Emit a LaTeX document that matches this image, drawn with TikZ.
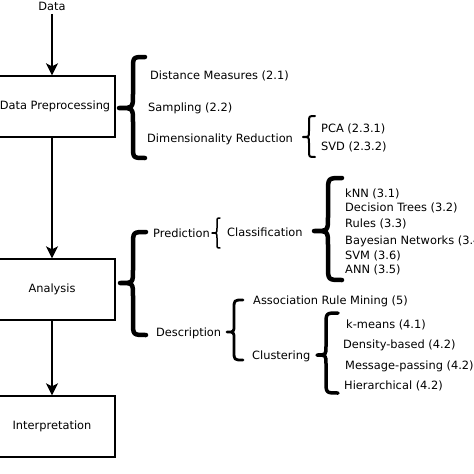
\documentclass[tikz,border=0pt]{standalone}
\usepackage{fontspec}
\setmainfont{DejaVu Sans}
\usetikzlibrary{arrows.meta}

\tikzset{
  stage/.style={draw,line width=1.4pt,minimum height=61pt,inner sep=0pt},
  curly/.style={line width=4.5pt,line cap=round,line join=round},
}

% curly brace: [opts]{x ends}{x spine}{x tip}{y top}{y tip}{y bottom}
\newcommand{\curly}[7][]{%
  \draw[curly,#1] (#2,#5) .. controls (#3,#5) .. (#3,#5+#2-#3)
    -- (#3,#6-#3+#4) .. controls (#3,#6) .. (#4,#6)
    .. controls (#3,#6) .. (#3,#6+#3-#4)
    -- (#3,#7-#2+#3) .. controls (#3,#7) .. (#2,#7);}

\begin{document}
\begin{tikzpicture}[x=1pt,y=-1pt,font=\fontsize{11.4}{13}\selectfont]
  \useasboundingbox (0,0) rectangle (474,474);

  \node (data) at (52,6) {Data};

  \begin{scope}[every node/.style={stage}]
    \node[minimum width=120pt] (prep)   at (55,106.5) {Data Preprocessing};
    \node[minimum width=126pt] (ana)    at (52,289.5) {Analysis};
    \node[minimum width=126pt] (interp) at (52,426.5) {Interpretation};
  \end{scope}

  \begin{scope}[-{Stealth[length=12pt,width=12pt,inset=3pt]},line width=1.4pt]
    \draw (data) -- (prep.north -| data);
    \draw (prep.south -| data) -- (ana);
    \draw (ana) -- (interp);
  \end{scope}

  \begin{scope}[every node/.style={anchor=west,inner sep=0pt,text height=8.4pt,text depth=0pt}]
    \node (dist)   at (150,75)  {Distance Measures (2.1)};
    \node (samp)   at (148,107) {Sampling (2.2)};
    \node (dim)    at (147,138) {Dimensionality Reduction};
    \node (pca)    at (321,128) {PCA (2.3.1)};
    \node (svd)    at (321,146) {SVD (2.3.2)};
    \node (pred)   at (153,233) {Prediction};
    \node (class)  at (227,232) {Classification};
    \node (knn)    at (345,193) {kNN (3.1)};
    \node (dt)     at (345,207) {Decision Trees (3.2)};
    \node (rules)  at (345,223) {Rules (3.3)};
    \node (bayes)  at (345,240) {Bayesian Networks (3.4)};
    \node (svm)    at (345,255) {SVM (3.6)};
    \node (ann)    at (345,269) {ANN (3.5)};
    \node (desc)   at (156,332) {Description};
    \node (arm)    at (253,300) {Association Rule Mining (5)};
    \node (clust)  at (252,355) {Clustering};
    \node (kmeans) at (346,324) {k-means (4.1)};
    \node (dens)   at (343,344) {Density-based (4.2)};
    \node (msg)    at (345,365) {Message-passing (4.2)};
    \node (hier)   at (344,385) {Hierarchical (4.2)};
  \end{scope}

  % braces
  \curly{145}{133}{119}{57}{108}{158}
  \curly[line width=2pt]{315}{309}{303}{116}{137}{157}
  \curly{146}{133}{120}{232}{283}{335}
  \curly[line width=1.5pt]{220}{217}{212}{218}{233}{248}
  \curly{342}{328}{314}{178}{231}{280}
  \curly[line width=2.8pt]{243}{234}{227}{300}{332}{360}
  \curly[line width=3.5pt]{338}{326}{317}{313}{355}{393}

\end{tikzpicture}
\end{document}
